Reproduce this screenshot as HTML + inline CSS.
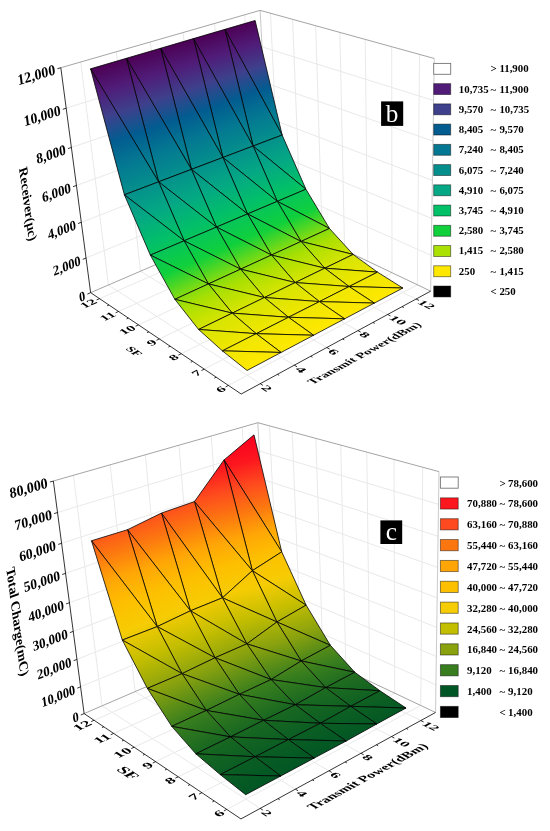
<!DOCTYPE html>
<html><head><meta charset="utf-8"><title>Figure</title>
<style>html,body{margin:0;padding:0;background:#fff}svg{display:block}</style></head>
<body><svg width="550" height="831" viewBox="0 0 550 831">
<rect width="550" height="831" fill="#fff"/>
<g><line x1="260.25" y1="383.68" x2="108.45" y2="285" stroke="#e9e9e9" stroke-width="1"/><line x1="108.45" y1="285" x2="80.7" y2="62" stroke="#e9e9e9" stroke-width="1"/><line x1="294.33" y1="365.17" x2="140.46" y2="271.21" stroke="#e9e9e9" stroke-width="1"/><line x1="140.46" y1="271.21" x2="116.35" y2="51.74" stroke="#e9e9e9" stroke-width="1"/><line x1="326.86" y1="347.51" x2="171.23" y2="257.95" stroke="#e9e9e9" stroke-width="1"/><line x1="171.23" y1="257.95" x2="150.48" y2="41.92" stroke="#e9e9e9" stroke-width="1"/><line x1="357.94" y1="330.63" x2="200.82" y2="245.2" stroke="#e9e9e9" stroke-width="1"/><line x1="200.82" y1="245.2" x2="183.19" y2="32.5" stroke="#e9e9e9" stroke-width="1"/><line x1="387.67" y1="314.49" x2="229.31" y2="232.92" stroke="#e9e9e9" stroke-width="1"/><line x1="229.31" y1="232.92" x2="214.57" y2="23.47" stroke="#e9e9e9" stroke-width="1"/><line x1="416.14" y1="299.03" x2="256.75" y2="221.1" stroke="#e9e9e9" stroke-width="1"/><line x1="256.75" y1="221.1" x2="244.7" y2="14.8" stroke="#e9e9e9" stroke-width="1"/><line x1="228.4" y1="385.41" x2="417.33" y2="284.79" stroke="#e9e9e9" stroke-width="1"/><line x1="417.33" y1="284.79" x2="419.54" y2="54.41" stroke="#e9e9e9" stroke-width="1"/><line x1="204.24" y1="369.15" x2="392.02" y2="272.74" stroke="#e9e9e9" stroke-width="1"/><line x1="392.02" y1="272.74" x2="391.71" y2="46.72" stroke="#e9e9e9" stroke-width="1"/><line x1="181.25" y1="353.67" x2="367.79" y2="261.2" stroke="#e9e9e9" stroke-width="1"/><line x1="367.79" y1="261.2" x2="365.18" y2="39.39" stroke="#e9e9e9" stroke-width="1"/><line x1="159.37" y1="338.94" x2="344.58" y2="250.15" stroke="#e9e9e9" stroke-width="1"/><line x1="344.58" y1="250.15" x2="339.87" y2="32.4" stroke="#e9e9e9" stroke-width="1"/><line x1="138.5" y1="324.89" x2="322.32" y2="239.56" stroke="#e9e9e9" stroke-width="1"/><line x1="322.32" y1="239.56" x2="315.7" y2="25.72" stroke="#e9e9e9" stroke-width="1"/><line x1="118.57" y1="311.47" x2="300.96" y2="229.39" stroke="#e9e9e9" stroke-width="1"/><line x1="300.96" y1="229.39" x2="292.58" y2="19.33" stroke="#e9e9e9" stroke-width="1"/><line x1="99.54" y1="298.66" x2="280.45" y2="219.62" stroke="#e9e9e9" stroke-width="1"/><line x1="280.45" y1="219.62" x2="270.46" y2="13.22" stroke="#e9e9e9" stroke-width="1"/><line x1="86.05" y1="258.01" x2="269.16" y2="183.21" stroke="#e9e9e9" stroke-width="1"/><line x1="269.16" y1="183.21" x2="431.22" y2="255.38" stroke="#e9e9e9" stroke-width="1"/><line x1="81.31" y1="222.29" x2="267.45" y2="150.52" stroke="#e9e9e9" stroke-width="1"/><line x1="267.45" y1="150.52" x2="431.79" y2="218.49" stroke="#e9e9e9" stroke-width="1"/><line x1="76.43" y1="185.45" x2="265.69" y2="116.93" stroke="#e9e9e9" stroke-width="1"/><line x1="265.69" y1="116.93" x2="432.38" y2="180.41" stroke="#e9e9e9" stroke-width="1"/><line x1="71.39" y1="147.45" x2="263.88" y2="82.4" stroke="#e9e9e9" stroke-width="1"/><line x1="263.88" y1="82.4" x2="432.98" y2="141.09" stroke="#e9e9e9" stroke-width="1"/><line x1="66.19" y1="108.23" x2="262.02" y2="46.89" stroke="#e9e9e9" stroke-width="1"/><line x1="262.02" y1="46.89" x2="433.61" y2="100.47" stroke="#e9e9e9" stroke-width="1"/></g>
<g><line x1="270.83" y1="215.04" x2="260.11" y2="10.36" stroke="#c8c8c8" stroke-width="1"/><line x1="90.64" y1="292.67" x2="270.83" y2="215.04" stroke="#9a9a9a" stroke-width="0.9"/><line x1="270.83" y1="215.04" x2="430.67" y2="291.14" stroke="#9a9a9a" stroke-width="0.9"/><line x1="60.82" y1="67.73" x2="260.11" y2="10.36" stroke="#9a9a9a" stroke-width="0.9"/><line x1="260.11" y1="10.36" x2="434.26" y2="58.48" stroke="#9a9a9a" stroke-width="0.9"/><line x1="430.67" y1="291.14" x2="434.26" y2="58.48" stroke="#c4c4c4" stroke-width="0.9"/></g>
<g><line x1="90.64" y1="292.67" x2="60.82" y2="67.73" stroke="#000" stroke-width="0.8"/><line x1="90.64" y1="292.67" x2="241.19" y2="394.02" stroke="#000" stroke-width="0.8"/><line x1="241.19" y1="394.02" x2="430.67" y2="291.14" stroke="#000" stroke-width="0.8"/><line x1="90.64" y1="292.67" x2="87.34" y2="294.1" stroke="#000" stroke-width="0.8"/><line x1="86.05" y1="258.01" x2="82.72" y2="259.37" stroke="#000" stroke-width="0.8"/><line x1="81.31" y1="222.29" x2="77.95" y2="223.58" stroke="#000" stroke-width="0.8"/><line x1="76.43" y1="185.45" x2="73.04" y2="186.67" stroke="#000" stroke-width="0.8"/><line x1="71.39" y1="147.45" x2="67.98" y2="148.6" stroke="#000" stroke-width="0.8"/><line x1="66.19" y1="108.23" x2="62.76" y2="109.3" stroke="#000" stroke-width="0.8"/><line x1="60.82" y1="67.73" x2="57.36" y2="68.72" stroke="#000" stroke-width="0.8"/><line x1="228.4" y1="385.41" x2="225.57" y2="386.92" stroke="#000" stroke-width="0.8"/><line x1="216.16" y1="377.18" x2="214.39" y2="378.1" stroke="#000" stroke-width="0.8"/><line x1="204.24" y1="369.15" x2="201.39" y2="370.61" stroke="#000" stroke-width="0.8"/><line x1="192.6" y1="361.31" x2="190.82" y2="362.22" stroke="#000" stroke-width="0.8"/><line x1="181.25" y1="353.67" x2="178.39" y2="355.09" stroke="#000" stroke-width="0.8"/><line x1="170.18" y1="346.22" x2="168.38" y2="347.09" stroke="#000" stroke-width="0.8"/><line x1="159.37" y1="338.94" x2="156.48" y2="340.32" stroke="#000" stroke-width="0.8"/><line x1="148.81" y1="331.83" x2="147" y2="332.68" stroke="#000" stroke-width="0.8"/><line x1="138.5" y1="324.89" x2="135.59" y2="326.23" stroke="#000" stroke-width="0.8"/><line x1="128.42" y1="318.1" x2="126.6" y2="318.94" stroke="#000" stroke-width="0.8"/><line x1="118.57" y1="311.47" x2="115.66" y2="312.79" stroke="#000" stroke-width="0.8"/><line x1="108.95" y1="304.99" x2="107.12" y2="305.8" stroke="#000" stroke-width="0.8"/><line x1="99.54" y1="298.66" x2="96.6" y2="299.94" stroke="#000" stroke-width="0.8"/><line x1="260.25" y1="383.68" x2="262.93" y2="385.42" stroke="#000" stroke-width="0.8"/><line x1="277.49" y1="374.31" x2="279.18" y2="375.38" stroke="#000" stroke-width="0.8"/><line x1="294.33" y1="365.17" x2="297.06" y2="366.84" stroke="#000" stroke-width="0.8"/><line x1="310.78" y1="356.24" x2="312.5" y2="357.26" stroke="#000" stroke-width="0.8"/><line x1="326.86" y1="347.51" x2="329.63" y2="349.1" stroke="#000" stroke-width="0.8"/><line x1="342.58" y1="338.97" x2="344.32" y2="339.95" stroke="#000" stroke-width="0.8"/><line x1="357.94" y1="330.63" x2="360.75" y2="332.16" stroke="#000" stroke-width="0.8"/><line x1="372.97" y1="322.47" x2="374.74" y2="323.4" stroke="#000" stroke-width="0.8"/><line x1="387.67" y1="314.49" x2="390.52" y2="315.95" stroke="#000" stroke-width="0.8"/><line x1="402.06" y1="306.68" x2="403.84" y2="307.57" stroke="#000" stroke-width="0.8"/><line x1="416.14" y1="299.03" x2="419.01" y2="300.44" stroke="#000" stroke-width="0.8"/></g>
<g font-family="'Liberation Serif','Times New Roman',serif" font-weight="bold" fill="#000"><text transform="matrix(0.11857 -0.05109 0.01812 0.13669 85.13 295.05)" x="0" y="33" font-size="100" text-anchor="end">0</text><text transform="matrix(0.12132 -0.04956 0.01839 0.13875 80.49 260.28)" x="0" y="33" font-size="100" text-anchor="end">2,000</text><text transform="matrix(0.12416 -0.04787 0.01868 0.14087 75.71 224.44)" x="0" y="33" font-size="100" text-anchor="end">4,000</text><text transform="matrix(0.12706 -0.04600 0.01897 0.14307 70.79 187.49)" x="0" y="33" font-size="100" text-anchor="end">6,000</text><text transform="matrix(0.13004 -0.04395 0.01927 0.14533 65.71 149.37)" x="0" y="33" font-size="100" text-anchor="end">8,000</text><text transform="matrix(0.13310 -0.04169 0.01958 0.14766 60.47 110.02)" x="0" y="33" font-size="100" text-anchor="end">10,000</text><text transform="matrix(0.13622 -0.03921 0.01990 0.15007 55.06 69.39)" x="0" y="33" font-size="100" text-anchor="end">12,000</text><text transform="matrix(0.12908 -0.06874 0.08650 0.05824 224.16 387.67)" x="0" y="33" font-size="100" text-anchor="end">6</text><text transform="matrix(0.13064 -0.06707 0.08686 0.05848 199.97 371.34)" x="0" y="33" font-size="100" text-anchor="end">7</text><text transform="matrix(0.13209 -0.06548 0.08720 0.05871 176.95 355.81)" x="0" y="33" font-size="100" text-anchor="end">8</text><text transform="matrix(0.13344 -0.06397 0.08753 0.05893 155.04 341.01)" x="0" y="33" font-size="100" text-anchor="end">9</text><text transform="matrix(0.13470 -0.06253 0.08784 0.05914 134.14 326.91)" x="0" y="33" font-size="100" text-anchor="end">10</text><text transform="matrix(0.13588 -0.06115 0.08813 0.05933 114.2 313.44)" x="0" y="33" font-size="100" text-anchor="end">11</text><text transform="matrix(0.13698 -0.05985 0.08842 0.05953 95.14 300.58)" x="0" y="33" font-size="100" text-anchor="end">12</text><text transform="matrix(0.12871 0.08366 -0.09508 0.05162 263.94 386.07)" x="0" y="39" font-size="100" text-anchor="start">2</text><text transform="matrix(0.13052 0.07970 -0.09472 0.05143 298.08 367.46)" x="0" y="39" font-size="100" text-anchor="start">4</text><text transform="matrix(0.13208 0.07600 -0.09438 0.05125 330.67 349.7)" x="0" y="39" font-size="100" text-anchor="start">6</text><text transform="matrix(0.13341 0.07254 -0.09405 0.05107 361.81 332.73)" x="0" y="39" font-size="100" text-anchor="start">8</text><text transform="matrix(0.13456 0.06930 -0.09374 0.05090 391.58 316.5)" x="0" y="39" font-size="100" text-anchor="start">10</text><text transform="matrix(0.13554 0.06627 -0.09344 0.05074 420.09 300.96)" x="0" y="39" font-size="100" text-anchor="start">12</text><text transform="matrix(0.10021 0.06746 -0.09792 0.04694 134 351.5)" x="0" y="33" font-size="100" text-anchor="middle">SF</text><text transform="matrix(0.11398 -0.06189 0.09755 0.05455 364.4 353.2)" x="0" y="33" font-size="100" text-anchor="middle">Transmit Power(dBm)</text><text transform="matrix(0.01802 0.13593 -0.12251 0.04523 28 204)" x="0" y="33" font-size="100" text-anchor="middle">Receiver(μc)</text></g>
<defs><linearGradient id="cma"><stop offset="0.0000" stop-color="#ffe800"/><stop offset="0.1000" stop-color="#aae002"/><stop offset="0.2000" stop-color="#10d03c"/><stop offset="0.3000" stop-color="#02c068"/><stop offset="0.4000" stop-color="#04a884"/><stop offset="0.5000" stop-color="#048e8c"/><stop offset="0.6000" stop-color="#047892"/><stop offset="0.7000" stop-color="#025c90"/><stop offset="0.8000" stop-color="#3e408c"/><stop offset="0.9000" stop-color="#501c78"/><stop offset="1.0000" stop-color="#4c0054"/></linearGradient><linearGradient id="cma_1" href="#cma" gradientUnits="userSpaceOnUse" x1="290.23" y1="251.58" x2="224.69" y2="28.47"/><linearGradient id="cma_2" href="#cma" gradientUnits="userSpaceOnUse" x1="308.08" y1="248.85" x2="224.62" y2="28.49"/><linearGradient id="cma_3" href="#cma" gradientUnits="userSpaceOnUse" x1="260.07" y1="265.3" x2="193.21" y2="37.7"/><linearGradient id="cma_4" href="#cma" gradientUnits="userSpaceOnUse" x1="278.36" y1="262.7" x2="193.14" y2="37.71"/><linearGradient id="cma_5" href="#cma" gradientUnits="userSpaceOnUse" x1="228.62" y1="279.6" x2="160.39" y2="47.32"/><linearGradient id="cma_6" href="#cma" gradientUnits="userSpaceOnUse" x1="247.36" y1="277.15" x2="160.32" y2="47.33"/><linearGradient id="cma_7" href="#cma" gradientUnits="userSpaceOnUse" x1="195.79" y1="294.51" x2="126.13" y2="57.37"/><linearGradient id="cma_8" href="#cma" gradientUnits="userSpaceOnUse" x1="215" y1="292.23" x2="126.05" y2="57.38"/><linearGradient id="cma_9" href="#cma" gradientUnits="userSpaceOnUse" x1="161.49" y1="310.09" x2="90.33" y2="67.86"/><linearGradient id="cma_10" href="#cma" gradientUnits="userSpaceOnUse" x1="181.2" y1="307.99" x2="90.25" y2="67.87"/><linearGradient id="cma_11" href="#cma" gradientUnits="userSpaceOnUse" x1="299.37" y1="268.16" x2="205.1" y2="19.26"/><linearGradient id="cma_12" href="#cma" gradientUnits="userSpaceOnUse" x1="305.12" y1="268.87" x2="199.14" y2="18.52"/><linearGradient id="cma_13" href="#cma" gradientUnits="userSpaceOnUse" x1="270.1" y1="282.06" x2="173.93" y2="28.14"/><linearGradient id="cma_14" href="#cma" gradientUnits="userSpaceOnUse" x1="275.98" y1="282.83" x2="167.83" y2="27.34"/><linearGradient id="cma_15" href="#cma" gradientUnits="userSpaceOnUse" x1="239.61" y1="296.55" x2="141.45" y2="37.39"/><linearGradient id="cma_16" href="#cma" gradientUnits="userSpaceOnUse" x1="245.63" y1="297.38" x2="135.2" y2="36.53"/><linearGradient id="cma_17" href="#cma" gradientUnits="userSpaceOnUse" x1="207.81" y1="311.65" x2="107.59" y2="47.04"/><linearGradient id="cma_18" href="#cma" gradientUnits="userSpaceOnUse" x1="213.97" y1="312.55" x2="101.18" y2="46.11"/><linearGradient id="cma_19" href="#cma" gradientUnits="userSpaceOnUse" x1="174.61" y1="327.41" x2="72.24" y2="57.12"/><linearGradient id="cma_20" href="#cma" gradientUnits="userSpaceOnUse" x1="180.93" y1="328.38" x2="65.67" y2="56.12"/><linearGradient id="cma_21" href="#cma" gradientUnits="userSpaceOnUse" x1="309.99" y1="278.52" x2="188.36" y2="-8.82"/><linearGradient id="cma_22" href="#cma" gradientUnits="userSpaceOnUse" x1="313.09" y1="279.35" x2="179.91" y2="-11.07"/><linearGradient id="cma_23" href="#cma" gradientUnits="userSpaceOnUse" x1="280.87" y1="292.7" x2="156.76" y2="-0.49"/><linearGradient id="cma_24" href="#cma" gradientUnits="userSpaceOnUse" x1="284.04" y1="293.56" x2="148.12" y2="-2.84"/><linearGradient id="cma_25" href="#cma" gradientUnits="userSpaceOnUse" x1="250.53" y1="307.48" x2="123.83" y2="8.19"/><linearGradient id="cma_26" href="#cma" gradientUnits="userSpaceOnUse" x1="253.77" y1="308.38" x2="114.99" y2="5.74"/><linearGradient id="cma_27" href="#cma" gradientUnits="userSpaceOnUse" x1="218.88" y1="322.89" x2="89.49" y2="17.25"/><linearGradient id="cma_28" href="#cma" gradientUnits="userSpaceOnUse" x1="222.2" y1="323.83" x2="80.44" y2="14.69"/><linearGradient id="cma_29" href="#cma" gradientUnits="userSpaceOnUse" x1="185.84" y1="338.97" x2="53.64" y2="26.71"/><linearGradient id="cma_30" href="#cma" gradientUnits="userSpaceOnUse" x1="189.24" y1="339.95" x2="44.37" y2="24.04"/><linearGradient id="cma_31" href="#cma" gradientUnits="userSpaceOnUse" x1="323.99" y1="291.5" x2="138.2" y2="-113.63"/><linearGradient id="cma_32" href="#cma" gradientUnits="userSpaceOnUse" x1="325.74" y1="292.33" x2="125.78" y2="-119.55"/><linearGradient id="cma_33" href="#cma" gradientUnits="userSpaceOnUse" x1="294.89" y1="306.1" x2="105.26" y2="-107.41"/><linearGradient id="cma_34" href="#cma" gradientUnits="userSpaceOnUse" x1="296.68" y1="306.96" x2="92.55" y2="-113.49"/><linearGradient id="cma_35" href="#cma" gradientUnits="userSpaceOnUse" x1="264.55" y1="321.32" x2="70.91" y2="-100.93"/><linearGradient id="cma_36" href="#cma" gradientUnits="userSpaceOnUse" x1="266.38" y1="322.2" x2="57.92" y2="-107.18"/><linearGradient id="cma_37" href="#cma" gradientUnits="userSpaceOnUse" x1="232.89" y1="337.2" x2="35.08" y2="-94.16"/><linearGradient id="cma_38" href="#cma" gradientUnits="userSpaceOnUse" x1="234.76" y1="338.1" x2="21.79" y2="-100.59"/><linearGradient id="cma_39" href="#cma" gradientUnits="userSpaceOnUse" x1="199.83" y1="353.78" x2="-2.35" y2="-87.09"/><linearGradient id="cma_40" href="#cma" gradientUnits="userSpaceOnUse" x1="201.75" y1="354.71" x2="-15.95" y2="-93.7"/><linearGradient id="cma_41" href="#cma" gradientUnits="userSpaceOnUse" x1="343.39" y1="306.54" x2="-41.76" y2="-486.78"/><linearGradient id="cma_42" href="#cma" gradientUnits="userSpaceOnUse" x1="344.64" y1="307.35" x2="-66.42" y2="-502.75"/><linearGradient id="cma_43" href="#cma" gradientUnits="userSpaceOnUse" x1="314.23" y1="321.7" x2="-79.04" y2="-488.37"/><linearGradient id="cma_44" href="#cma" gradientUnits="userSpaceOnUse" x1="315.51" y1="322.53" x2="-104.24" y2="-504.69"/><linearGradient id="cma_45" href="#cma" gradientUnits="userSpaceOnUse" x1="283.82" y1="337.51" x2="-117.93" y2="-490.02"/><linearGradient id="cma_46" href="#cma" gradientUnits="userSpaceOnUse" x1="285.13" y1="338.35" x2="-143.68" y2="-506.72"/><linearGradient id="cma_47" href="#cma" gradientUnits="userSpaceOnUse" x1="252.06" y1="354.01" x2="-158.54" y2="-491.74"/><linearGradient id="cma_48" href="#cma" gradientUnits="userSpaceOnUse" x1="253.4" y1="354.88" x2="-184.87" y2="-508.83"/><linearGradient id="cma_49" href="#cma" gradientUnits="userSpaceOnUse" x1="218.87" y1="371.26" x2="-200.98" y2="-493.54"/><linearGradient id="cma_50" href="#cma" gradientUnits="userSpaceOnUse" x1="220.24" y1="372.15" x2="-227.91" y2="-511.03"/><linearGradient id="cma_51" href="#cma" gradientUnits="userSpaceOnUse" x1="360.96" y1="309.97" x2="-291.62" y2="-976.11"/><linearGradient id="cma_52" href="#cma" gradientUnits="userSpaceOnUse" x1="361.75" y1="310.49" x2="-334.03" y2="-1004.34"/><linearGradient id="cma_53" href="#cma" gradientUnits="userSpaceOnUse" x1="331.59" y1="325.51" x2="-335.06" y2="-988.3"/><linearGradient id="cma_54" href="#cma" gradientUnits="userSpaceOnUse" x1="332.39" y1="326.04" x2="-378.38" y2="-1017.13"/><linearGradient id="cma_55" href="#cma" gradientUnits="userSpaceOnUse" x1="300.92" y1="341.73" x2="-380.42" y2="-1001.01"/><linearGradient id="cma_56" href="#cma" gradientUnits="userSpaceOnUse" x1="301.74" y1="342.27" x2="-424.69" y2="-1030.48"/><linearGradient id="cma_57" href="#cma" gradientUnits="userSpaceOnUse" x1="268.87" y1="358.68" x2="-427.81" y2="-1014.3"/><linearGradient id="cma_58" href="#cma" gradientUnits="userSpaceOnUse" x1="269.71" y1="359.24" x2="-473.08" y2="-1044.44"/><linearGradient id="cma_59" href="#cma" gradientUnits="userSpaceOnUse" x1="235.35" y1="376.42" x2="-477.39" y2="-1028.21"/><linearGradient id="cma_60" href="#cma" gradientUnits="userSpaceOnUse" x1="236.2" y1="376.99" x2="-523.71" y2="-1059.04"/></defs>
<g stroke="#000" stroke-width="0.78" stroke-linejoin="round"><polygon points="224.94,29.34 255.14,20.46 282.13,135.05" fill="url(#cma_1)"/><polygon points="224.94,29.34 282.13,135.05 253.12,146.04" fill="url(#cma_2)"/><polygon points="193.47,38.58 224.94,29.34 253.12,146.04" fill="url(#cma_3)"/><polygon points="193.47,38.58 253.12,146.04 222.92,157.48" fill="url(#cma_4)"/><polygon points="160.65,48.22 193.47,38.58 222.92,157.48" fill="url(#cma_5)"/><polygon points="160.65,48.22 222.92,157.48 191.45,169.39" fill="url(#cma_6)"/><polygon points="126.4,58.29 160.65,48.22 191.45,169.39" fill="url(#cma_7)"/><polygon points="126.4,58.29 191.45,169.39 158.63,181.82" fill="url(#cma_8)"/><polygon points="90.6,68.8 126.4,58.29 158.63,181.82" fill="url(#cma_9)"/><polygon points="90.6,68.8 158.63,181.82 124.38,194.8" fill="url(#cma_10)"/><polygon points="253.12,146.04 282.13,135.05 305.93,189.23" fill="url(#cma_11)"/><polygon points="253.12,146.04 305.93,189.23 277.32,201.35" fill="url(#cma_12)"/><polygon points="222.92,157.48 253.12,146.04 277.32,201.35" fill="url(#cma_13)"/><polygon points="222.92,157.48 277.32,201.35 247.54,213.95" fill="url(#cma_14)"/><polygon points="191.45,169.39 222.92,157.48 247.54,213.95" fill="url(#cma_15)"/><polygon points="191.45,169.39 247.54,213.95 216.5,227.09" fill="url(#cma_16)"/><polygon points="158.63,181.82 191.45,169.39 216.5,227.09" fill="url(#cma_17)"/><polygon points="158.63,181.82 216.5,227.09 184.13,240.8" fill="url(#cma_18)"/><polygon points="124.38,194.8 158.63,181.82 184.13,240.8" fill="url(#cma_19)"/><polygon points="124.38,194.8 184.13,240.8 150.33,255.1" fill="url(#cma_20)"/><polygon points="277.32,201.35 305.93,189.23 329.44,228.44" fill="url(#cma_21)"/><polygon points="277.32,201.35 329.44,228.44 301.04,241.46" fill="url(#cma_22)"/><polygon points="247.54,213.95 277.32,201.35 301.04,241.46" fill="url(#cma_23)"/><polygon points="247.54,213.95 301.04,241.46 271.46,255.02" fill="url(#cma_24)"/><polygon points="216.5,227.09 247.54,213.95 271.46,255.02" fill="url(#cma_25)"/><polygon points="216.5,227.09 271.46,255.02 240.63,269.16" fill="url(#cma_26)"/><polygon points="184.13,240.8 216.5,227.09 240.63,269.16" fill="url(#cma_27)"/><polygon points="184.13,240.8 240.63,269.16 208.46,283.92" fill="url(#cma_28)"/><polygon points="150.33,255.1 184.13,240.8 208.46,283.92" fill="url(#cma_29)"/><polygon points="150.33,255.1 208.46,283.92 174.86,299.32" fill="url(#cma_30)"/><polygon points="301.04,241.46 329.44,228.44 353.13,254.44" fill="url(#cma_31)"/><polygon points="301.04,241.46 353.13,254.44 324.78,268.2" fill="url(#cma_32)"/><polygon points="271.46,255.02 301.04,241.46 324.78,268.2" fill="url(#cma_33)"/><polygon points="271.46,255.02 324.78,268.2 295.23,282.55" fill="url(#cma_34)"/><polygon points="240.63,269.16 271.46,255.02 295.23,282.55" fill="url(#cma_35)"/><polygon points="240.63,269.16 295.23,282.55 264.4,297.52" fill="url(#cma_36)"/><polygon points="208.46,283.92 240.63,269.16 264.4,297.52" fill="url(#cma_37)"/><polygon points="208.46,283.92 264.4,297.52 232.22,313.14" fill="url(#cma_38)"/><polygon points="174.86,299.32 208.46,283.92 232.22,313.14" fill="url(#cma_39)"/><polygon points="174.86,299.32 232.22,313.14 198.58,329.47" fill="url(#cma_40)"/><polygon points="324.78,268.2 353.13,254.44 377.49,272.15" fill="url(#cma_41)"/><polygon points="324.78,268.2 377.49,272.15 349.09,286.56" fill="url(#cma_42)"/><polygon points="295.23,282.55 324.78,268.2 349.09,286.56" fill="url(#cma_43)"/><polygon points="295.23,282.55 349.09,286.56 319.46,301.6" fill="url(#cma_44)"/><polygon points="264.4,297.52 295.23,282.55 319.46,301.6" fill="url(#cma_45)"/><polygon points="264.4,297.52 319.46,301.6 288.52,317.29" fill="url(#cma_46)"/><polygon points="232.22,313.14 264.4,297.52 288.52,317.29" fill="url(#cma_47)"/><polygon points="232.22,313.14 288.52,317.29 256.19,333.7" fill="url(#cma_48)"/><polygon points="198.58,329.47 232.22,313.14 256.19,333.7" fill="url(#cma_49)"/><polygon points="198.58,329.47 256.19,333.7 222.38,350.86" fill="url(#cma_50)"/><polygon points="349.09,286.56 377.49,272.15 402.83,288.03" fill="url(#cma_51)"/><polygon points="349.09,286.56 402.83,288.03 374.36,303.09" fill="url(#cma_52)"/><polygon points="319.46,301.6 349.09,286.56 374.36,303.09" fill="url(#cma_53)"/><polygon points="319.46,301.6 374.36,303.09 344.64,318.82" fill="url(#cma_54)"/><polygon points="288.52,317.29 319.46,301.6 344.64,318.82" fill="url(#cma_55)"/><polygon points="288.52,317.29 344.64,318.82 313.57,335.26" fill="url(#cma_56)"/><polygon points="256.19,333.7 288.52,317.29 313.57,335.26" fill="url(#cma_57)"/><polygon points="256.19,333.7 313.57,335.26 281.08,352.46" fill="url(#cma_58)"/><polygon points="222.38,350.86 256.19,333.7 281.08,352.46" fill="url(#cma_59)"/><polygon points="222.38,350.86 281.08,352.46 247.05,370.46" fill="url(#cma_60)"/></g>
<rect x="381.1" y="101.4" width="22.1" height="24.5" fill="#000"/>
<text x="392.15000000000003" y="121.7" font-family="'Liberation Serif',serif" font-size="25.2" fill="#fff" text-anchor="middle">b</text>
<g font-family="'Liberation Serif','Times New Roman',serif" font-weight="bold" font-size="10.85" fill="#000"><rect x="433.7" y="63.4" width="17" height="10.9" fill="#ffffff" stroke="#757575" stroke-width="0.9"/><text x="490.4" y="72.3">&gt;</text><text x="499.4" y="72.3">11,900</text><rect x="433.7" y="83.64" width="17" height="10.9" fill="#501c78" stroke="rgba(0,0,0,0.5)" stroke-width="0.9"/><text x="458.8" y="92.54">10,735</text><text x="490.4" y="92.54">~</text><text x="499.4" y="92.54">11,900</text><rect x="433.7" y="103.88" width="17" height="10.9" fill="#3e408c" stroke="rgba(0,0,0,0.5)" stroke-width="0.9"/><text x="458.8" y="112.78">9,570</text><text x="490.4" y="112.78">~</text><text x="499.4" y="112.78">10,735</text><rect x="433.7" y="124.12" width="17" height="10.9" fill="#025c90" stroke="rgba(0,0,0,0.5)" stroke-width="0.9"/><text x="458.8" y="133.02">8,405</text><text x="490.4" y="133.02">~</text><text x="499.4" y="133.02">9,570</text><rect x="433.7" y="144.36" width="17" height="10.9" fill="#047892" stroke="rgba(0,0,0,0.5)" stroke-width="0.9"/><text x="458.8" y="153.26">7,240</text><text x="490.4" y="153.26">~</text><text x="499.4" y="153.26">8,405</text><rect x="433.7" y="164.6" width="17" height="10.9" fill="#048e8c" stroke="rgba(0,0,0,0.5)" stroke-width="0.9"/><text x="458.8" y="173.5">6,075</text><text x="490.4" y="173.5">~</text><text x="499.4" y="173.5">7,240</text><rect x="433.7" y="184.84" width="17" height="10.9" fill="#04a884" stroke="rgba(0,0,0,0.5)" stroke-width="0.9"/><text x="458.8" y="193.74">4,910</text><text x="490.4" y="193.74">~</text><text x="499.4" y="193.74">6,075</text><rect x="433.7" y="205.08" width="17" height="10.9" fill="#02c068" stroke="rgba(0,0,0,0.5)" stroke-width="0.9"/><text x="458.8" y="213.98">3,745</text><text x="490.4" y="213.98">~</text><text x="499.4" y="213.98">4,910</text><rect x="433.7" y="225.32" width="17" height="10.9" fill="#10d03c" stroke="rgba(0,0,0,0.5)" stroke-width="0.9"/><text x="458.8" y="234.22">2,580</text><text x="490.4" y="234.22">~</text><text x="499.4" y="234.22">3,745</text><rect x="433.7" y="245.56" width="17" height="10.9" fill="#aae002" stroke="rgba(0,0,0,0.5)" stroke-width="0.9"/><text x="458.8" y="254.46">1,415</text><text x="490.4" y="254.46">~</text><text x="499.4" y="254.46">2,580</text><rect x="433.7" y="265.8" width="17" height="10.9" fill="#ffe800" stroke="rgba(0,0,0,0.5)" stroke-width="0.9"/><text x="458.8" y="274.7">250</text><text x="490.4" y="274.7">~</text><text x="499.4" y="274.7">1,415</text><rect x="433.7" y="286.04" width="17" height="10.9" fill="#000000" stroke="rgba(0,0,0,0.5)" stroke-width="0.9"/><text x="490.4" y="294.94">&lt;</text><text x="499.4" y="294.94">250</text></g>
<g><line x1="260.23" y1="808.4" x2="102.1" y2="705.82" stroke="#e9e9e9" stroke-width="1"/><line x1="102.1" y1="705.82" x2="73.43" y2="475.31" stroke="#e9e9e9" stroke-width="1"/><line x1="295.4" y1="789.15" x2="135.11" y2="691.58" stroke="#e9e9e9" stroke-width="1"/><line x1="135.11" y1="691.58" x2="110.17" y2="464.83" stroke="#e9e9e9" stroke-width="1"/><line x1="328.94" y1="770.8" x2="166.82" y2="677.9" stroke="#e9e9e9" stroke-width="1"/><line x1="166.82" y1="677.9" x2="145.32" y2="454.81" stroke="#e9e9e9" stroke-width="1"/><line x1="360.95" y1="753.29" x2="197.29" y2="664.76" stroke="#e9e9e9" stroke-width="1"/><line x1="197.29" y1="664.76" x2="178.98" y2="445.21" stroke="#e9e9e9" stroke-width="1"/><line x1="391.53" y1="736.55" x2="226.6" y2="652.12" stroke="#e9e9e9" stroke-width="1"/><line x1="226.6" y1="652.12" x2="211.25" y2="436.01" stroke="#e9e9e9" stroke-width="1"/><line x1="420.78" y1="720.54" x2="254.81" y2="639.95" stroke="#e9e9e9" stroke-width="1"/><line x1="254.81" y1="639.95" x2="242.2" y2="427.19" stroke="#e9e9e9" stroke-width="1"/><line x1="226.77" y1="809.42" x2="420.77" y2="705.48" stroke="#e9e9e9" stroke-width="1"/><line x1="420.77" y1="705.48" x2="422.7" y2="467.23" stroke="#e9e9e9" stroke-width="1"/><line x1="201.86" y1="792.69" x2="394.69" y2="693.15" stroke="#e9e9e9" stroke-width="1"/><line x1="394.69" y1="693.15" x2="394.06" y2="459.49" stroke="#e9e9e9" stroke-width="1"/><line x1="178.18" y1="776.77" x2="369.75" y2="681.36" stroke="#e9e9e9" stroke-width="1"/><line x1="369.75" y1="681.36" x2="366.77" y2="452.13" stroke="#e9e9e9" stroke-width="1"/><line x1="155.63" y1="761.63" x2="345.86" y2="670.06" stroke="#e9e9e9" stroke-width="1"/><line x1="345.86" y1="670.06" x2="340.75" y2="445.1" stroke="#e9e9e9" stroke-width="1"/><line x1="134.16" y1="747.2" x2="322.96" y2="659.24" stroke="#e9e9e9" stroke-width="1"/><line x1="322.96" y1="659.24" x2="315.91" y2="438.4" stroke="#e9e9e9" stroke-width="1"/><line x1="113.66" y1="733.43" x2="301" y2="648.85" stroke="#e9e9e9" stroke-width="1"/><line x1="301" y1="648.85" x2="292.17" y2="431.99" stroke="#e9e9e9" stroke-width="1"/><line x1="94.1" y1="720.29" x2="279.91" y2="638.88" stroke="#e9e9e9" stroke-width="1"/><line x1="279.91" y1="638.88" x2="269.45" y2="425.85" stroke="#e9e9e9" stroke-width="1"/><line x1="80.57" y1="686.79" x2="267.8" y2="609.23" stroke="#e9e9e9" stroke-width="1"/><line x1="267.8" y1="609.23" x2="435.93" y2="684.79" stroke="#e9e9e9" stroke-width="1"/><line x1="76.95" y1="659.39" x2="266.47" y2="584.18" stroke="#e9e9e9" stroke-width="1"/><line x1="266.47" y1="584.18" x2="436.34" y2="656.47" stroke="#e9e9e9" stroke-width="1"/><line x1="73.24" y1="631.36" x2="265.1" y2="558.63" stroke="#e9e9e9" stroke-width="1"/><line x1="265.1" y1="558.63" x2="436.75" y2="627.48" stroke="#e9e9e9" stroke-width="1"/><line x1="69.45" y1="602.69" x2="263.71" y2="532.56" stroke="#e9e9e9" stroke-width="1"/><line x1="263.71" y1="532.56" x2="437.18" y2="597.8" stroke="#e9e9e9" stroke-width="1"/><line x1="65.56" y1="573.34" x2="262.29" y2="505.95" stroke="#e9e9e9" stroke-width="1"/><line x1="262.29" y1="505.95" x2="437.61" y2="567.4" stroke="#e9e9e9" stroke-width="1"/><line x1="61.59" y1="543.3" x2="260.84" y2="478.79" stroke="#e9e9e9" stroke-width="1"/><line x1="260.84" y1="478.79" x2="438.06" y2="536.26" stroke="#e9e9e9" stroke-width="1"/><line x1="57.52" y1="512.54" x2="259.36" y2="451.05" stroke="#e9e9e9" stroke-width="1"/><line x1="259.36" y1="451.05" x2="438.51" y2="504.34" stroke="#e9e9e9" stroke-width="1"/></g>
<g><line x1="269.11" y1="633.78" x2="257.85" y2="422.72" stroke="#c8c8c8" stroke-width="1"/><line x1="84.12" y1="713.58" x2="269.11" y2="633.78" stroke="#9a9a9a" stroke-width="0.9"/><line x1="269.11" y1="633.78" x2="435.54" y2="712.47" stroke="#9a9a9a" stroke-width="0.9"/><line x1="53.35" y1="481.03" x2="257.85" y2="422.72" stroke="#9a9a9a" stroke-width="0.9"/><line x1="257.85" y1="422.72" x2="438.98" y2="471.62" stroke="#9a9a9a" stroke-width="0.9"/><line x1="435.54" y1="712.47" x2="438.98" y2="471.62" stroke="#c4c4c4" stroke-width="0.9"/></g>
<g><line x1="84.12" y1="713.58" x2="53.35" y2="481.03" stroke="#000" stroke-width="0.8"/><line x1="84.12" y1="713.58" x2="240.95" y2="818.95" stroke="#000" stroke-width="0.8"/><line x1="240.95" y1="818.95" x2="435.54" y2="712.47" stroke="#000" stroke-width="0.8"/><line x1="84.12" y1="713.58" x2="80.81" y2="715.01" stroke="#000" stroke-width="0.8"/><line x1="80.57" y1="686.79" x2="77.25" y2="688.16" stroke="#000" stroke-width="0.8"/><line x1="76.95" y1="659.39" x2="73.6" y2="660.71" stroke="#000" stroke-width="0.8"/><line x1="73.24" y1="631.36" x2="69.87" y2="632.64" stroke="#000" stroke-width="0.8"/><line x1="69.45" y1="602.69" x2="66.06" y2="603.91" stroke="#000" stroke-width="0.8"/><line x1="65.56" y1="573.34" x2="62.16" y2="574.51" stroke="#000" stroke-width="0.8"/><line x1="61.59" y1="543.3" x2="58.17" y2="544.41" stroke="#000" stroke-width="0.8"/><line x1="57.52" y1="512.54" x2="54.08" y2="513.59" stroke="#000" stroke-width="0.8"/><line x1="53.35" y1="481.03" x2="49.89" y2="482.02" stroke="#000" stroke-width="0.8"/><line x1="226.77" y1="809.42" x2="223.95" y2="810.94" stroke="#000" stroke-width="0.8"/><line x1="214.16" y1="800.95" x2="212.39" y2="801.88" stroke="#000" stroke-width="0.8"/><line x1="201.86" y1="792.69" x2="199.01" y2="794.15" stroke="#000" stroke-width="0.8"/><line x1="189.87" y1="784.63" x2="188.08" y2="785.53" stroke="#000" stroke-width="0.8"/><line x1="178.18" y1="776.77" x2="175.31" y2="778.2" stroke="#000" stroke-width="0.8"/><line x1="166.77" y1="769.11" x2="164.97" y2="769.99" stroke="#000" stroke-width="0.8"/><line x1="155.63" y1="761.63" x2="152.75" y2="763.02" stroke="#000" stroke-width="0.8"/><line x1="144.77" y1="754.33" x2="142.96" y2="755.18" stroke="#000" stroke-width="0.8"/><line x1="134.16" y1="747.2" x2="131.25" y2="748.55" stroke="#000" stroke-width="0.8"/><line x1="123.79" y1="740.24" x2="121.97" y2="741.07" stroke="#000" stroke-width="0.8"/><line x1="113.66" y1="733.43" x2="110.75" y2="734.75" stroke="#000" stroke-width="0.8"/><line x1="103.77" y1="726.79" x2="101.94" y2="727.6" stroke="#000" stroke-width="0.8"/><line x1="94.1" y1="720.29" x2="91.16" y2="721.57" stroke="#000" stroke-width="0.8"/><line x1="260.23" y1="808.4" x2="262.91" y2="810.14" stroke="#000" stroke-width="0.8"/><line x1="278.03" y1="798.66" x2="279.72" y2="799.73" stroke="#000" stroke-width="0.8"/><line x1="295.4" y1="789.15" x2="298.14" y2="790.82" stroke="#000" stroke-width="0.8"/><line x1="312.37" y1="779.87" x2="314.09" y2="780.89" stroke="#000" stroke-width="0.8"/><line x1="328.94" y1="770.8" x2="331.72" y2="772.39" stroke="#000" stroke-width="0.8"/><line x1="345.13" y1="761.94" x2="346.88" y2="762.92" stroke="#000" stroke-width="0.8"/><line x1="360.95" y1="753.29" x2="363.76" y2="754.81" stroke="#000" stroke-width="0.8"/><line x1="376.41" y1="744.82" x2="378.18" y2="745.75" stroke="#000" stroke-width="0.8"/><line x1="391.53" y1="736.55" x2="394.38" y2="738.01" stroke="#000" stroke-width="0.8"/><line x1="406.31" y1="728.46" x2="408.1" y2="729.35" stroke="#000" stroke-width="0.8"/><line x1="420.78" y1="720.54" x2="423.66" y2="721.94" stroke="#000" stroke-width="0.8"/></g>
<g font-family="'Liberation Serif','Times New Roman',serif" font-weight="bold" fill="#000"><text transform="matrix(0.12007 -0.05180 0.01797 0.13581 78.61 715.96)" x="0" y="33" font-size="100" text-anchor="end">0</text><text transform="matrix(0.12217 -0.05061 0.01817 0.13733 75.03 689.08)" x="0" y="33" font-size="100" text-anchor="end">10,000</text><text transform="matrix(0.12430 -0.04932 0.01837 0.13889 71.37 661.6)" x="0" y="33" font-size="100" text-anchor="end">20,000</text><text transform="matrix(0.12647 -0.04794 0.01858 0.14047 67.63 633.49)" x="0" y="33" font-size="100" text-anchor="end">30,000</text><text transform="matrix(0.12869 -0.04645 0.01880 0.14210 63.8 604.72)" x="0" y="33" font-size="100" text-anchor="end">40,000</text><text transform="matrix(0.13095 -0.04486 0.01902 0.14376 59.89 575.28)" x="0" y="33" font-size="100" text-anchor="end">50,000</text><text transform="matrix(0.13325 -0.04314 0.01924 0.14546 55.88 545.15)" x="0" y="33" font-size="100" text-anchor="end">60,000</text><text transform="matrix(0.13558 -0.04130 0.01947 0.14720 51.78 514.29)" x="0" y="33" font-size="100" text-anchor="end">70,000</text><text transform="matrix(0.13796 -0.03934 0.01971 0.14899 47.58 482.68)" x="0" y="33" font-size="100" text-anchor="end">80,000</text><text transform="matrix(0.14077 -0.07542 0.09468 0.06361 222.54 811.69)" x="0" y="33" font-size="100" text-anchor="end">6</text><text transform="matrix(0.14245 -0.07352 0.09504 0.06385 197.59 794.89)" x="0" y="33" font-size="100" text-anchor="end">7</text><text transform="matrix(0.14400 -0.07172 0.09538 0.06408 173.88 778.91)" x="0" y="33" font-size="100" text-anchor="end">8</text><text transform="matrix(0.14545 -0.07001 0.09571 0.06430 151.31 763.71)" x="0" y="33" font-size="100" text-anchor="end">9</text><text transform="matrix(0.14680 -0.06839 0.09602 0.06451 129.8 749.23)" x="0" y="33" font-size="100" text-anchor="end">10</text><text transform="matrix(0.14805 -0.06684 0.09631 0.06471 109.29 735.41)" x="0" y="33" font-size="100" text-anchor="end">11</text><text transform="matrix(0.14923 -0.06537 0.09659 0.06490 89.7 722.21)" x="0" y="33" font-size="100" text-anchor="end">12</text><text transform="matrix(0.12850 0.08336 -0.09470 0.05182 263.92 810.8)" x="0" y="39" font-size="100" text-anchor="start">2</text><text transform="matrix(0.13027 0.07930 -0.09429 0.05160 299.16 791.44)" x="0" y="39" font-size="100" text-anchor="start">4</text><text transform="matrix(0.13177 0.07551 -0.09389 0.05138 332.76 772.99)" x="0" y="39" font-size="100" text-anchor="start">6</text><text transform="matrix(0.13305 0.07197 -0.09352 0.05118 364.82 755.38)" x="0" y="39" font-size="100" text-anchor="start">8</text><text transform="matrix(0.13413 0.06867 -0.09316 0.05098 395.45 738.56)" x="0" y="39" font-size="100" text-anchor="start">10</text><text transform="matrix(0.13505 0.06558 -0.09282 0.05080 424.74 722.47)" x="0" y="39" font-size="100" text-anchor="start">12</text><text transform="matrix(0.13461 0.09044 -0.13151 0.06330 128 773)" x="0" y="33" font-size="100" text-anchor="middle">SF</text><text transform="matrix(0.12060 -0.06600 0.11051 0.06151 367.5 776.5)" x="0" y="33" font-size="100" text-anchor="middle">Transmit Power(dBm)</text><text transform="matrix(0.01832 0.13849 -0.12537 0.04617 17.6 621.5)" x="0" y="33" font-size="100" text-anchor="middle">Total Charge(mC)</text></g>
<defs><linearGradient id="cmb"><stop offset="0.0000" stop-color="#005624"/><stop offset="0.1000" stop-color="#387e1e"/><stop offset="0.2000" stop-color="#8aa20e"/><stop offset="0.3000" stop-color="#c4be00"/><stop offset="0.4000" stop-color="#f6cc04"/><stop offset="0.5000" stop-color="#fdc000"/><stop offset="0.6000" stop-color="#ffa606"/><stop offset="0.7000" stop-color="#fc7610"/><stop offset="0.8000" stop-color="#fe4a1e"/><stop offset="0.9000" stop-color="#fc161e"/><stop offset="1.0000" stop-color="#fa0020"/></linearGradient><linearGradient id="cmb_1" href="#cmb" gradientUnits="userSpaceOnUse" x1="279.29" y1="674.34" x2="219.75" y2="443.27"/><linearGradient id="cmb_2" href="#cmb" gradientUnits="userSpaceOnUse" x1="295.22" y1="674.14" x2="218.51" y2="443.28"/><linearGradient id="cmb_3" href="#cmb" gradientUnits="userSpaceOnUse" x1="235.9" y1="688.95" x2="183.24" y2="450.96"/><linearGradient id="cmb_4" href="#cmb" gradientUnits="userSpaceOnUse" x1="249" y1="691.61" x2="179.7" y2="450.24"/><linearGradient id="cmb_5" href="#cmb" gradientUnits="userSpaceOnUse" x1="221.76" y1="700.4" x2="144.85" y2="461.45"/><linearGradient id="cmb_6" href="#cmb" gradientUnits="userSpaceOnUse" x1="234.56" y1="699.62" x2="141.33" y2="461.66"/><linearGradient id="cmb_7" href="#cmb" gradientUnits="userSpaceOnUse" x1="184.49" y1="716.28" x2="109.62" y2="470.96"/><linearGradient id="cmb_8" href="#cmb" gradientUnits="userSpaceOnUse" x1="197.74" y1="716.33" x2="105.45" y2="470.95"/><linearGradient id="cmb_9" href="#cmb" gradientUnits="userSpaceOnUse" x1="154.59" y1="731.15" x2="71.99" y2="481.87"/><linearGradient id="cmb_10" href="#cmb" gradientUnits="userSpaceOnUse" x1="167.18" y1="730.57" x2="68.09" y2="482.05"/><linearGradient id="cmb_11" href="#cmb" gradientUnits="userSpaceOnUse" x1="288.14" y1="691.63" x2="210.21" y2="428.21"/><linearGradient id="cmb_12" href="#cmb" gradientUnits="userSpaceOnUse" x1="296.79" y1="694.99" x2="200.02" y2="424.26"/><linearGradient id="cmb_13" href="#cmb" gradientUnits="userSpaceOnUse" x1="246.22" y1="704.49" x2="185.06" y2="429.64"/><linearGradient id="cmb_14" href="#cmb" gradientUnits="userSpaceOnUse" x1="255.16" y1="711.35" x2="170.96" y2="418.83"/><linearGradient id="cmb_15" href="#cmb" gradientUnits="userSpaceOnUse" x1="233.74" y1="722.1" x2="121.74" y2="434.17"/><linearGradient id="cmb_16" href="#cmb" gradientUnits="userSpaceOnUse" x1="238.67" y1="723.44" x2="113.93" y2="432.05"/><linearGradient id="cmb_17" href="#cmb" gradientUnits="userSpaceOnUse" x1="196.91" y1="737.71" x2="91.1" y2="441.19"/><linearGradient id="cmb_18" href="#cmb" gradientUnits="userSpaceOnUse" x1="203.22" y1="740" x2="80.57" y2="437.37"/><linearGradient id="cmb_19" href="#cmb" gradientUnits="userSpaceOnUse" x1="168.11" y1="754.06" x2="46.46" y2="451.13"/><linearGradient id="cmb_20" href="#cmb" gradientUnits="userSpaceOnUse" x1="172.62" y1="755.28" x2="39" y2="449.1"/><linearGradient id="cmb_21" href="#cmb" gradientUnits="userSpaceOnUse" x1="303.44" y1="700.59" x2="202.42" y2="400.96"/><linearGradient id="cmb_22" href="#cmb" gradientUnits="userSpaceOnUse" x1="309.84" y1="703.69" x2="184.41" y2="392.24"/><linearGradient id="cmb_23" href="#cmb" gradientUnits="userSpaceOnUse" x1="264.98" y1="713.34" x2="182.89" y2="398.39"/><linearGradient id="cmb_24" href="#cmb" gradientUnits="userSpaceOnUse" x1="272.64" y1="719.57" x2="155.85" y2="376.4"/><linearGradient id="cmb_25" href="#cmb" gradientUnits="userSpaceOnUse" x1="246.88" y1="732.34" x2="102.17" y2="392.99"/><linearGradient id="cmb_26" href="#cmb" gradientUnits="userSpaceOnUse" x1="249.94" y1="733.51" x2="91.31" y2="388.84"/><linearGradient id="cmb_27" href="#cmb" gradientUnits="userSpaceOnUse" x1="211.35" y1="747.95" x2="73.55" y2="398.61"/><linearGradient id="cmb_28" href="#cmb" gradientUnits="userSpaceOnUse" x1="215.7" y1="749.96" x2="57.45" y2="391.17"/><linearGradient id="cmb_29" href="#cmb" gradientUnits="userSpaceOnUse" x1="180.98" y1="765.13" x2="23.69" y2="406.1"/><linearGradient id="cmb_30" href="#cmb" gradientUnits="userSpaceOnUse" x1="183.66" y1="766.15" x2="13.84" y2="402.36"/><linearGradient id="cmb_31" href="#cmb" gradientUnits="userSpaceOnUse" x1="320.39" y1="713.67" x2="170.3" y2="300.72"/><linearGradient id="cmb_32" href="#cmb" gradientUnits="userSpaceOnUse" x1="325.22" y1="717.05" x2="137.29" y2="277.63"/><linearGradient id="cmb_33" href="#cmb" gradientUnits="userSpaceOnUse" x1="283.89" y1="725.62" x2="162.67" y2="290.65"/><linearGradient id="cmb_34" href="#cmb" gradientUnits="userSpaceOnUse" x1="290.02" y1="732.01" x2="110.96" y2="236.79"/><linearGradient id="cmb_35" href="#cmb" gradientUnits="userSpaceOnUse" x1="263.24" y1="746.51" x2="36.88" y2="251.71"/><linearGradient id="cmb_36" href="#cmb" gradientUnits="userSpaceOnUse" x1="265.24" y1="747.61" x2="19.96" y2="242.34"/><linearGradient id="cmb_37" href="#cmb" gradientUnits="userSpaceOnUse" x1="228.21" y1="762.21" x2="13.48" y2="253.86"/><linearGradient id="cmb_38" href="#cmb" gradientUnits="userSpaceOnUse" x1="231.37" y1="764.22" x2="-14.38" y2="236.2"/><linearGradient id="cmb_39" href="#cmb" gradientUnits="userSpaceOnUse" x1="197.12" y1="780.37" x2="-50.7" y2="252.63"/><linearGradient id="cmb_40" href="#cmb" gradientUnits="userSpaceOnUse" x1="198.77" y1="781.27" x2="-65.16" y2="244.79"/><linearGradient id="cmb_41" href="#cmb" gradientUnits="userSpaceOnUse" x1="341.23" y1="730.54" x2="64.77" y2="-32.18"/><linearGradient id="cmb_42" href="#cmb" gradientUnits="userSpaceOnUse" x1="345.47" y1="734.62" x2="-6.35" y2="-100.61"/><linearGradient id="cmb_43" href="#cmb" gradientUnits="userSpaceOnUse" x1="304.58" y1="740.62" x2="100.58" y2="-52.39"/><linearGradient id="cmb_44" href="#cmb" gradientUnits="userSpaceOnUse" x1="309.43" y1="747.77" x2="-1.76" y2="-203.12"/><linearGradient id="cmb_45" href="#cmb" gradientUnits="userSpaceOnUse" x1="284.78" y1="764.29" x2="-185.4" y2="-213.35"/><linearGradient id="cmb_46" href="#cmb" gradientUnits="userSpaceOnUse" x1="286.44" y1="765.42" x2="-220.5" y2="-237.45"/><linearGradient id="cmb_47" href="#cmb" gradientUnits="userSpaceOnUse" x1="249.28" y1="780.07" x2="-185.89" y2="-220.51"/><linearGradient id="cmb_48" href="#cmb" gradientUnits="userSpaceOnUse" x1="252.06" y1="782.28" x2="-247.57" y2="-269.49"/><linearGradient id="cmb_49" href="#cmb" gradientUnits="userSpaceOnUse" x1="218.48" y1="799.43" x2="-303.61" y2="-252.04"/><linearGradient id="cmb_50" href="#cmb" gradientUnits="userSpaceOnUse" x1="219.77" y1="800.28" x2="-332.09" y2="-270.84"/><linearGradient id="cmb_51" href="#cmb" gradientUnits="userSpaceOnUse" x1="361.72" y1="734.2" x2="-53.23" y2="-316.47"/><linearGradient id="cmb_52" href="#cmb" gradientUnits="userSpaceOnUse" x1="364.86" y1="737.02" x2="-168.28" y2="-419.78"/><linearGradient id="cmb_53" href="#cmb" gradientUnits="userSpaceOnUse" x1="326.74" y1="745.21" x2="1.07" y2="-357.23"/><linearGradient id="cmb_54" href="#cmb" gradientUnits="userSpaceOnUse" x1="330.43" y1="749.92" x2="-180.86" y2="-589.58"/><linearGradient id="cmb_55" href="#cmb" gradientUnits="userSpaceOnUse" x1="301.97" y1="766.5" x2="-384.8" y2="-597.8"/><linearGradient id="cmb_56" href="#cmb" gradientUnits="userSpaceOnUse" x1="303.04" y1="767.21" x2="-437.58" y2="-633.36"/><linearGradient id="cmb_57" href="#cmb" gradientUnits="userSpaceOnUse" x1="267.14" y1="782.86" x2="-377.93" y2="-614.82"/><linearGradient id="cmb_58" href="#cmb" gradientUnits="userSpaceOnUse" x1="268.95" y1="784.24" x2="-473.52" y2="-687.49"/><linearGradient id="cmb_59" href="#cmb" gradientUnits="userSpaceOnUse" x1="234.53" y1="802.22" x2="-526.75" y2="-669.18"/><linearGradient id="cmb_60" href="#cmb" gradientUnits="userSpaceOnUse" x1="235.34" y1="802.75" x2="-569.07" y2="-696.73"/></defs>
<g stroke="#000" stroke-width="0.78" stroke-linejoin="round"><polygon points="224.04,459.92 253.99,434.87 281.73,551.83" fill="url(#cmb_1)"/><polygon points="224.04,459.92 281.73,551.83 252.36,570.69" fill="url(#cmb_2)"/><polygon points="194.45,501.61 224.04,459.92 252.36,570.69" fill="url(#cmb_3)"/><polygon points="194.45,501.61 252.36,570.69 222.48,597.82" fill="url(#cmb_4)"/><polygon points="161.46,513.05 194.45,501.61 222.48,597.82" fill="url(#cmb_5)"/><polygon points="161.46,513.05 222.48,597.82 190.45,610.8" fill="url(#cmb_6)"/><polygon points="127.54,529.69 161.46,513.05 190.45,610.8" fill="url(#cmb_7)"/><polygon points="127.54,529.69 190.45,610.8 157.26,626.6" fill="url(#cmb_8)"/><polygon points="91.5,540.77 127.54,529.69 157.26,626.6" fill="url(#cmb_9)"/><polygon points="91.5,540.77 157.26,626.6 122.34,640.07" fill="url(#cmb_10)"/><polygon points="252.36,570.69 281.73,551.83 306.14,605.15" fill="url(#cmb_11)"/><polygon points="252.36,570.69 306.14,605.15 276.93,621.96" fill="url(#cmb_12)"/><polygon points="222.48,597.82 252.36,570.69 276.93,621.96" fill="url(#cmb_13)"/><polygon points="222.48,597.82 276.93,621.96 246.87,643.84" fill="url(#cmb_14)"/><polygon points="190.45,610.8 222.48,597.82 246.87,643.84" fill="url(#cmb_15)"/><polygon points="190.45,610.8 246.87,643.84 215.08,657.76" fill="url(#cmb_16)"/><polygon points="157.26,626.6 190.45,610.8 215.08,657.76" fill="url(#cmb_17)"/><polygon points="157.26,626.6 215.08,657.76 182.03,673.61" fill="url(#cmb_18)"/><polygon points="122.34,640.07 157.26,626.6 182.03,673.61" fill="url(#cmb_19)"/><polygon points="122.34,640.07 182.03,673.61 147.36,688.4" fill="url(#cmb_20)"/><polygon points="276.93,621.96 306.14,605.15 330.37,645.31" fill="url(#cmb_21)"/><polygon points="276.93,621.96 330.37,645.31 301.24,660.96" fill="url(#cmb_22)"/><polygon points="246.87,643.84 276.93,621.96 301.24,660.96" fill="url(#cmb_23)"/><polygon points="246.87,643.84 301.24,660.96 271.05,679.54" fill="url(#cmb_24)"/><polygon points="215.08,657.76 246.87,643.84 271.05,679.54" fill="url(#cmb_25)"/><polygon points="215.08,657.76 271.05,679.54 239.37,694.32" fill="url(#cmb_26)"/><polygon points="182.03,673.61 215.08,657.76 239.37,694.32" fill="url(#cmb_27)"/><polygon points="182.03,673.61 239.37,694.32 206.34,710.44" fill="url(#cmb_28)"/><polygon points="147.36,688.4 182.03,673.61 206.34,710.44" fill="url(#cmb_29)"/><polygon points="147.36,688.4 206.34,710.44 171.76,726.37" fill="url(#cmb_30)"/><polygon points="301.24,660.96 330.37,645.31 354.79,672.25" fill="url(#cmb_31)"/><polygon points="301.24,660.96 354.79,672.25 325.66,687.59" fill="url(#cmb_32)"/><polygon points="271.05,679.54 301.24,660.96 325.66,687.59" fill="url(#cmb_33)"/><polygon points="271.05,679.54 325.66,687.59 295.35,704.75" fill="url(#cmb_34)"/><polygon points="239.37,694.32 271.05,679.54 295.35,704.75" fill="url(#cmb_35)"/><polygon points="239.37,694.32 295.35,704.75 263.63,720.3" fill="url(#cmb_36)"/><polygon points="206.34,710.44 239.37,694.32 263.63,720.3" fill="url(#cmb_37)"/><polygon points="206.34,710.44 263.63,720.3 230.51,736.9" fill="url(#cmb_38)"/><polygon points="171.76,726.37 206.34,710.44 230.51,736.9" fill="url(#cmb_39)"/><polygon points="171.76,726.37 230.51,736.9 195.83,753.8" fill="url(#cmb_40)"/><polygon points="325.66,687.59 354.79,672.25 379.91,690.75" fill="url(#cmb_41)"/><polygon points="325.66,687.59 379.91,690.75 350.71,706.32" fill="url(#cmb_42)"/><polygon points="295.35,704.75 325.66,687.59 350.71,706.32" fill="url(#cmb_43)"/><polygon points="295.35,704.75 350.71,706.32 320.26,723.28" fill="url(#cmb_44)"/><polygon points="263.63,720.3 295.35,704.75 320.26,723.28" fill="url(#cmb_45)"/><polygon points="263.63,720.3 320.26,723.28 288.42,739.56" fill="url(#cmb_46)"/><polygon points="230.51,736.9 263.63,720.3 288.42,739.56" fill="url(#cmb_47)"/><polygon points="230.51,736.9 288.42,739.56 255.12,756.81" fill="url(#cmb_48)"/><polygon points="195.83,753.8 230.51,736.9 255.12,756.81" fill="url(#cmb_49)"/><polygon points="195.83,753.8 255.12,756.81 220.23,774.58" fill="url(#cmb_50)"/><polygon points="350.71,706.32 379.91,690.75 406.04,708.04" fill="url(#cmb_51)"/><polygon points="350.71,706.32 406.04,708.04 376.78,723.98" fill="url(#cmb_52)"/><polygon points="320.26,723.28 350.71,706.32 376.78,723.98" fill="url(#cmb_53)"/><polygon points="320.26,723.28 376.78,723.98 346.22,741.01" fill="url(#cmb_54)"/><polygon points="288.42,739.56 320.26,723.28 346.22,741.01" fill="url(#cmb_55)"/><polygon points="288.42,739.56 346.22,741.01 314.24,758.06" fill="url(#cmb_56)"/><polygon points="255.12,756.81 288.42,739.56 314.24,758.06" fill="url(#cmb_57)"/><polygon points="255.12,756.81 314.24,758.06 280.76,776.03" fill="url(#cmb_58)"/><polygon points="220.23,774.58 255.12,756.81 280.76,776.03" fill="url(#cmb_59)"/><polygon points="220.23,774.58 280.76,776.03 245.66,794.71" fill="url(#cmb_60)"/></g>
<rect x="380.4" y="520.4" width="21.8" height="23.6" fill="#000"/>
<text x="391.29999999999995" y="539.8" font-family="'Liberation Serif',serif" font-size="25.2" fill="#fff" text-anchor="middle">c</text>
<g font-family="'Liberation Serif','Times New Roman',serif" font-weight="bold" font-size="10.9" fill="#000"><rect x="440.4" y="477" width="17.8" height="11.2" fill="#ffffff" stroke="#757575" stroke-width="0.9"/><text x="499.6" y="486.6">&gt;</text><text x="508.1" y="486.6">78,600</text><rect x="440.4" y="497.85" width="17.8" height="11.2" fill="#fc161e" stroke="rgba(0,0,0,0.5)" stroke-width="0.9"/><text x="467.1" y="507.45">70,880</text><text x="499.6" y="507.45">~</text><text x="508.1" y="507.45">78,600</text><rect x="440.4" y="518.7" width="17.8" height="11.2" fill="#fe4a1e" stroke="rgba(0,0,0,0.5)" stroke-width="0.9"/><text x="467.1" y="528.3">63,160</text><text x="499.6" y="528.3">~</text><text x="508.1" y="528.3">70,880</text><rect x="440.4" y="539.55" width="17.8" height="11.2" fill="#fc7610" stroke="rgba(0,0,0,0.5)" stroke-width="0.9"/><text x="467.1" y="549.15">55,440</text><text x="499.6" y="549.15">~</text><text x="508.1" y="549.15">63,160</text><rect x="440.4" y="560.4" width="17.8" height="11.2" fill="#ffa606" stroke="rgba(0,0,0,0.5)" stroke-width="0.9"/><text x="467.1" y="570">47,720</text><text x="499.6" y="570">~</text><text x="508.1" y="570">55,440</text><rect x="440.4" y="581.25" width="17.8" height="11.2" fill="#fdc000" stroke="rgba(0,0,0,0.5)" stroke-width="0.9"/><text x="467.1" y="590.85">40,000</text><text x="499.6" y="590.85">~</text><text x="508.1" y="590.85">47,720</text><rect x="440.4" y="602.1" width="17.8" height="11.2" fill="#f6cc04" stroke="rgba(0,0,0,0.5)" stroke-width="0.9"/><text x="467.1" y="611.7">32,280</text><text x="499.6" y="611.7">~</text><text x="508.1" y="611.7">40,000</text><rect x="440.4" y="622.95" width="17.8" height="11.2" fill="#c4be00" stroke="rgba(0,0,0,0.5)" stroke-width="0.9"/><text x="467.1" y="632.55">24,560</text><text x="499.6" y="632.55">~</text><text x="508.1" y="632.55">32,280</text><rect x="440.4" y="643.8" width="17.8" height="11.2" fill="#8aa20e" stroke="rgba(0,0,0,0.5)" stroke-width="0.9"/><text x="467.1" y="653.4">16,840</text><text x="499.6" y="653.4">~</text><text x="508.1" y="653.4">24,560</text><rect x="440.4" y="664.65" width="17.8" height="11.2" fill="#387e1e" stroke="rgba(0,0,0,0.5)" stroke-width="0.9"/><text x="467.1" y="674.25">9,120</text><text x="499.6" y="674.25">~</text><text x="508.1" y="674.25">16,840</text><rect x="440.4" y="685.5" width="17.8" height="11.2" fill="#005624" stroke="rgba(0,0,0,0.5)" stroke-width="0.9"/><text x="467.1" y="695.1">1,400</text><text x="499.6" y="695.1">~</text><text x="508.1" y="695.1">9,120</text><rect x="440.4" y="706.35" width="17.8" height="11.2" fill="#000000" stroke="rgba(0,0,0,0.5)" stroke-width="0.9"/><text x="499.6" y="715.95">&lt;</text><text x="508.1" y="715.95">1,400</text></g>
</svg></body></html>
